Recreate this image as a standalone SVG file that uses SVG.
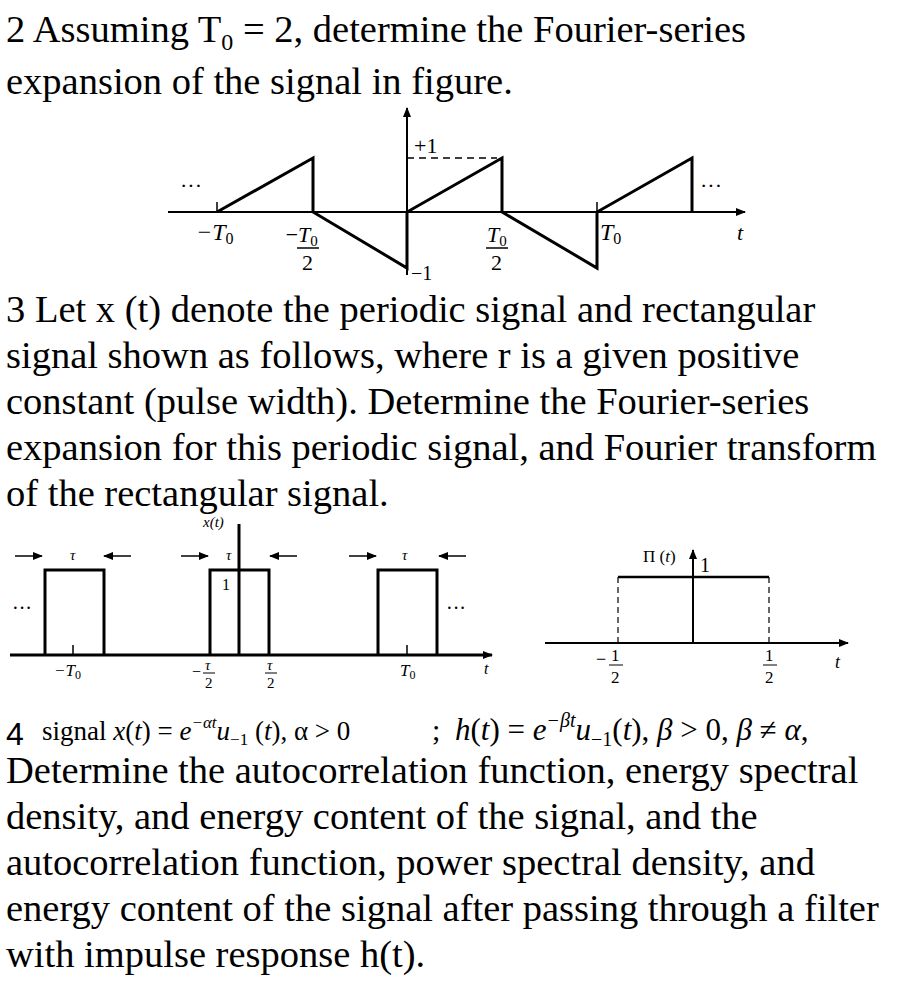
<svg xmlns="http://www.w3.org/2000/svg" width="908" height="986" viewBox="0 0 908 986">
<style>
.t{font-family:"Liberation Serif",serif;font-size:38.5px;fill:#000}
.m{font-family:"Liberation Serif",serif;font-style:italic;fill:#000}
.s{font-family:"Liberation Serif",serif;fill:#000}
.ln{stroke:#000;fill:none}
</style>
<defs>
<marker id="ar" markerWidth="10" markerHeight="8" refX="9" refY="4" orient="auto" markerUnits="userSpaceOnUse"><path d="M0,0 L10,4 L0,8 Z" fill="#000"/></marker>
</defs>
<rect width="908" height="986" fill="#fff"/>
<g id="text">
<text class="t" x="6" y="42">2 Assuming T<tspan font-size="24" dy="8">0</tspan><tspan dy="-8"> = 2, determine the Fourier-series</tspan></text>
<text class="t" x="6" y="94">expansion of the signal in figure.</text>
<text class="t" x="6" y="322">3 Let x (t) denote the periodic signal and rectangular</text>
<text class="t" x="6" y="368">signal shown as follows, where r is a given positive</text>
<text class="t" x="6" y="414">constant (pulse width). Determine the Fourier-series</text>
<text class="t" x="6" y="460">expansion for this periodic signal, and Fourier transform</text>
<text class="t" x="6" y="506">of the rectangular signal.</text>
<text x="6" y="745" font-family="Liberation Sans,sans-serif" font-size="32">4</text>
<text class="s" x="42" y="740" font-size="27">signal <tspan font-style="italic">x</tspan>(<tspan font-style="italic">t</tspan>) = <tspan font-style="italic">e</tspan><tspan font-size="17" dy="-12" font-style="italic">−αt</tspan><tspan dy="12" font-style="italic">u</tspan><tspan font-size="17" dy="5">−1</tspan><tspan dy="-5"> (<tspan font-style="italic">t</tspan>),  α &gt; 0</tspan></text>
<text class="s" x="432" y="740" font-size="30">;</text>
<text class="s" x="455" y="740" font-size="31"><tspan font-style="italic">h</tspan>(<tspan font-style="italic">t</tspan>) =  <tspan font-style="italic">e</tspan><tspan font-size="20" dy="-13" font-style="italic">−βt</tspan><tspan dy="13" font-style="italic">u</tspan><tspan font-size="20" dy="6">−1</tspan><tspan dy="-6">(<tspan font-style="italic">t</tspan>), <tspan font-style="italic">β</tspan> &gt; 0, <tspan font-style="italic">β</tspan> ≠ <tspan font-style="italic">α</tspan>,</tspan></text>
<text class="t" x="6" y="783">Determine the autocorrelation function, energy spectral</text>
<text class="t" x="6" y="829">density, and energy content of the signal, and the</text>
<text class="t" x="6" y="875">autocorrelation function, power spectral density, and</text>
<text class="t" x="6" y="921">energy content of the signal after passing through a filter</text>
<text class="t" x="6" y="967">with impulse response h(t).</text>
</g>
<g id="fig1">
<line class="ln" x1="168" y1="212" x2="745" y2="212" stroke-width="2" marker-end="url(#ar)"/>
<line class="ln" x1="407" y1="275" x2="407" y2="108" stroke-width="2" marker-end="url(#ar)"/>
<line class="ln" x1="407" y1="158" x2="497" y2="158" stroke-dasharray="7,5" stroke-width="1.5"/>
<path class="ln" stroke-width="3" d="M217,212 L313,158 L313,212 L407,268 L407,212 L502,158 L502,212 L597,268 L597,212 L692,158 L692,212"/>
<line class="ln" x1="217" y1="202" x2="217" y2="212" stroke-width="1.5"/>
<line class="ln" x1="597" y1="202" x2="597" y2="212" stroke-width="1.5"/>
<text class="s" x="180" y="193" font-size="22">···</text>
<text class="s" x="700" y="193" font-size="22">···</text>
<text class="s" x="414" y="153" font-size="22">+1</text>
<text class="s" x="411" y="280" font-size="20">−1</text>
<text class="m" x="196" y="240" font-size="24">−T<tspan font-size="16" dy="4" font-style="normal">0</tspan></text>
<text class="m" x="284" y="242" font-size="22">−</text>
<text class="m" x="298" y="242" font-size="22">T<tspan font-size="15" dy="4" font-style="normal">0</tspan></text>
<line class="ln" x1="297" y1="248" x2="319" y2="248" stroke-width="1.5"/>
<text class="s" x="302" y="270" font-size="22">2</text>
<text class="m" x="487" y="242" font-size="22">T<tspan font-size="15" dy="4" font-style="normal">0</tspan></text>
<line class="ln" x1="486" y1="248" x2="508" y2="248" stroke-width="1.5"/>
<text class="s" x="491" y="270" font-size="22">2</text>
<text class="m" x="600" y="240" font-size="24">T<tspan font-size="16" dy="4" font-style="normal">0</tspan></text>
<text class="m" x="737" y="240" font-size="22">t</text>
</g>
<g id="fig2">
<line class="ln" x1="10" y1="655" x2="492" y2="655" stroke-width="3" marker-end="url(#ar)"/>
<line class="ln" x1="239" y1="655" x2="239" y2="524" stroke-width="3"/>
<path class="ln" stroke-width="3" d="M45,655 V570 H104 V655 M210,655 V570 H269 V655 M378,655 V570 H437 V655"/>
<line class="ln" x1="73" y1="645" x2="73" y2="655" stroke-width="1.5"/>
<line class="ln" x1="407" y1="645" x2="407" y2="655" stroke-width="1.5"/>
<line class="ln" x1="15" y1="556" x2="42" y2="556" stroke-width="1.5" marker-end="url(#ar)"/>
<line class="ln" x1="131" y1="556" x2="104" y2="556" stroke-width="1.5" marker-end="url(#ar)"/>
<line class="ln" x1="181" y1="556" x2="208" y2="556" stroke-width="1.5" marker-end="url(#ar)"/>
<line class="ln" x1="297" y1="556" x2="270" y2="556" stroke-width="1.5" marker-end="url(#ar)"/>
<line class="ln" x1="349" y1="556" x2="376" y2="556" stroke-width="1.5" marker-end="url(#ar)"/>
<line class="ln" x1="466" y1="556" x2="439" y2="556" stroke-width="1.5" marker-end="url(#ar)"/>
<text class="m" x="70" y="560" font-size="15">τ</text>
<text class="m" x="226" y="560" font-size="15">τ</text>
<text class="m" x="402" y="560" font-size="15">τ</text>
<text class="m" x="203" y="527" font-size="15">x(t)</text>
<text class="s" x="222" y="590" font-size="16">1</text>
<text class="s" x="12" y="615" font-size="20">···</text>
<text class="s" x="446" y="615" font-size="20">···</text>
<text class="m" x="54" y="676" font-size="17">−T<tspan font-size="12" dy="3" font-style="normal">0</tspan></text>
<text class="m" x="191" y="677" font-size="16">−</text>
<text class="m" x="205" y="670" font-size="15">τ</text>
<line class="ln" x1="203" y1="673" x2="215" y2="673" stroke-width="1"/>
<text class="s" x="205" y="688" font-size="15">2</text>
<text class="m" x="267" y="670" font-size="15">τ</text>
<line class="ln" x1="265" y1="673" x2="277" y2="673" stroke-width="1"/>
<text class="s" x="267" y="688" font-size="15">2</text>
<text class="m" x="400" y="676" font-size="17">T<tspan font-size="12" dy="3" font-style="normal">0</tspan></text>
<text class="m" x="484" y="674" font-size="16">t</text>
</g>
<g id="fig3">
<line class="ln" x1="545" y1="643" x2="848" y2="643" stroke-width="2" marker-end="url(#ar)"/>
<line class="ln" x1="693" y1="643" x2="693" y2="550" stroke-width="2" marker-end="url(#ar)"/>
<path class="ln" stroke-width="2.5" d="M618,577 H769"/>
<line class="ln" x1="618" y1="577" x2="618" y2="643" stroke-dasharray="6,4" stroke-width="1.2"/>
<line class="ln" x1="769" y1="577" x2="769" y2="643" stroke-dasharray="6,4" stroke-width="1.2"/>
<text class="s" x="643" y="562" font-size="17">Π (<tspan font-style="italic">t</tspan>)</text>
<text class="s" x="700" y="572" font-size="20">1</text>
<text class="s" x="596" y="665" font-size="18">−</text>
<text class="s" x="611" y="661" font-size="17">1</text>
<line class="ln" x1="609" y1="665" x2="623" y2="665" stroke-width="1"/>
<text class="s" x="611" y="683" font-size="17">2</text>
<text class="s" x="765" y="661" font-size="17">1</text>
<line class="ln" x1="763" y1="665" x2="777" y2="665" stroke-width="1"/>
<text class="s" x="765" y="683" font-size="17">2</text>
<text class="m" x="835" y="668" font-size="18">t</text>
</g>
</svg>
